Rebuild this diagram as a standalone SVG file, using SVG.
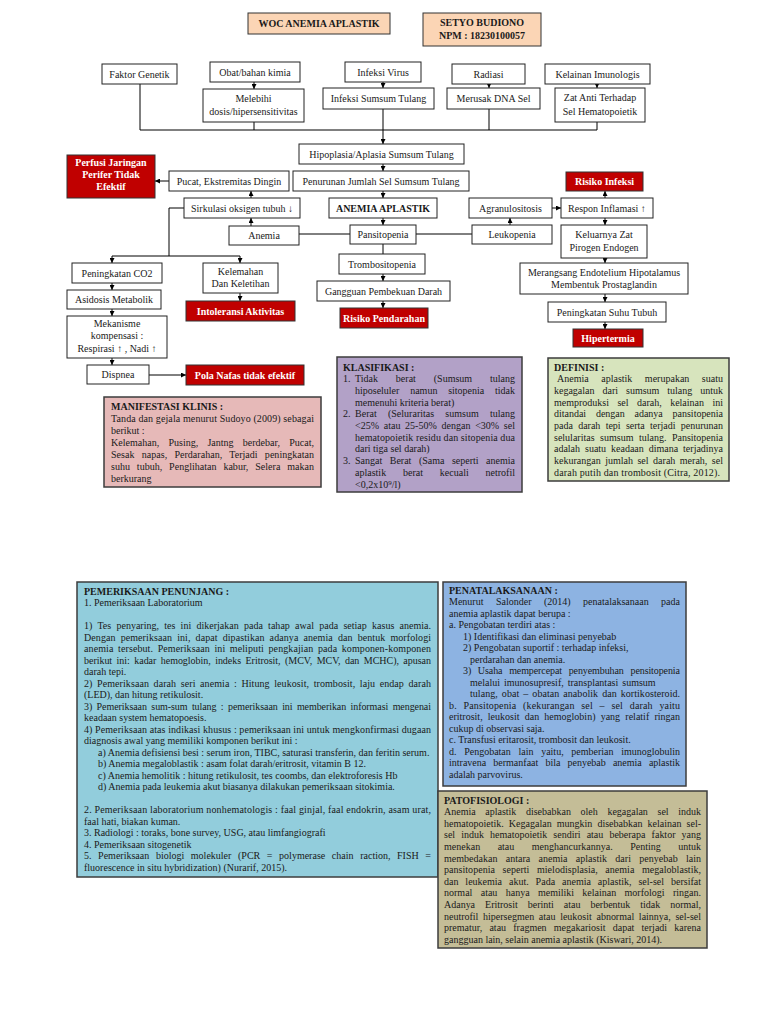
<svg xmlns="http://www.w3.org/2000/svg" width="768" height="1024" viewBox="0 0 768 1024">
<defs>
<style>
text{font-family:"Liberation Serif","Times New Roman",serif;font-size:10px;fill:#1a1a1a}
.m{text-anchor:middle}
.bd{font-weight:bold}
.wt{fill:#fff;font-weight:bold;text-anchor:middle}
.n{fill:#fff;stroke:#222;stroke-width:1}
.r{fill:#c00000;stroke:#333;stroke-width:1}
.h{fill:#fbd5b5;stroke:#333;stroke-width:1}
.tb{stroke:#3c3c3c;stroke-width:1.5}
.a{marker-end:url(#ah)}
</style>
<marker id="ah" viewBox="0 0 10 10" refX="10" refY="5" markerWidth="5" markerHeight="5" markerUnits="userSpaceOnUse" orient="auto"><path d="M0,0L10,5L0,10z" fill="#000"/></marker>
</defs>
<rect width="768" height="1024" fill="#fff"/>

<g id="connectors" fill="none" stroke="#000" stroke-width="1">
<path class="a" d="M254,82V89"/>
<path class="a" d="M383,82V88"/>
<path class="a" d="M489,84V88"/>
<path class="a" d="M597,84V88"/>
<path d="M140,84V130M254,122V130M383,109V130M489,109V130M597,122V130M140,130H597"/>
<path class="a" d="M383,130V144"/>
<path class="a" d="M383,164V171"/>
<path class="a" d="M383,191V198"/>
<path class="a" d="M383,218V225"/>
<path d="M383,244V254"/>
<path class="a" d="M383,274V281"/>
<path class="a" d="M383,301V308"/>
<path d="M350,234H299M416,234H472"/>
<path class="a" d="M251,226V218"/>
<path class="a" d="M251,198V191"/>
<path class="a" d="M169,181H155"/>
<path d="M184,208H169V256M112,256H240"/>
<path class="a" d="M112,256V263"/>
<path class="a" d="M240,256V263"/>
<path class="a" d="M112,283V290"/>
<path class="a" d="M112,309V316"/>
<path class="a" d="M112,358V365"/>
<path class="a" d="M149,375H186"/>
<path class="a" d="M240,293V301"/>
<path class="a" d="M510,225V218"/>
<path class="a" d="M552,208H561"/>
<path class="a" d="M605,198V191"/>
<path class="a" d="M605,218V225"/>
<path class="a" d="M605,258V263"/>
<path class="a" d="M605,294V302"/>
<path class="a" d="M605,322V329"/>
</g>

<g id="title"><rect class="h" x="248" y="13" width="142" height="21"/><text class="m bd" x="319" y="27">WOC ANEMIA APLASTIK</text></g>
<g id="author"><rect class="h" x="423" y="13" width="118" height="33"/><text class="m bd" x="482" y="26">SETYO BUDIONO</text><text class="m bd" x="482" y="39">NPM : 18230100057</text></g>

<g id="faktor"><rect class="n" x="102" y="64" width="75" height="20"/><text class="m" x="139.5" y="77.5">Faktor Genetik</text></g>
<g id="obat"><rect class="n" x="210" y="62" width="90" height="20"/><text class="m" x="255" y="75.5">Obat/bahan kimia</text></g>
<g id="virus"><rect class="n" x="345" y="62" width="76" height="20"/><text class="m" x="383" y="75.5">Infeksi Virus</text></g>
<g id="radiasi"><rect class="n" x="452" y="64" width="73" height="20"/><text class="m" x="488.5" y="77.5">Radiasi</text></g>
<g id="kelainan"><rect class="n" x="545" y="64" width="105" height="20"/><text class="m" x="597.5" y="77.5">Kelainan Imunologis</text></g>

<g id="melebihi"><rect class="n" x="203" y="89" width="101" height="33"/><text class="m" x="253.5" y="102">Melebihi</text><text class="m" x="253.5" y="115">dosis/hipersensitivitas</text></g>
<g id="infsum"><rect class="n" x="323" y="88" width="111" height="21"/><text class="m" x="378.5" y="102">Infeksi Sumsum Tulang</text></g>
<g id="merusak"><rect class="n" x="447" y="88" width="93" height="21"/><text class="m" x="493.5" y="102">Merusak DNA Sel</text></g>
<g id="zatanti"><rect class="n" x="555" y="88" width="90" height="34"/><text class="m" x="600" y="101">Zat Anti Terhadap</text><text class="m" x="600" y="115">Sel Hematopoietik</text></g>

<g id="hipoplasia"><rect class="n" x="299" y="144" width="165" height="20"/><text class="m" x="381.5" y="157.5">Hipoplasia/Aplasia Sumsum Tulang</text></g>
<g id="penurunan"><rect class="n" x="293" y="171" width="176" height="20"/><text class="m" x="381" y="184.5">Penurunan Jumlah Sel Sumsum Tulang</text></g>
<g id="anemiaaplastik"><rect class="n" x="329" y="198" width="108" height="20"/><text class="m bd" x="383" y="211.5">ANEMIA APLASTIK</text></g>
<g id="pansitopenia"><rect class="n" x="350" y="225" width="66" height="19"/><text class="m" x="383" y="238">Pansitopenia</text></g>
<g id="trombositopenia"><rect class="n" x="339" y="254" width="86" height="20"/><text class="m" x="382" y="267.5">Trombositopenia</text></g>
<g id="gangguan"><rect class="n" x="317" y="281" width="133" height="20"/><text class="m" x="383.5" y="294.5">Gangguan Pembekuan Darah</text></g>
<g id="pendarahan"><rect class="r" x="340" y="308" width="88" height="20"/><text class="wt" x="384" y="321.5">Risiko Pendarahan</text></g>

<g id="perfusi"><rect class="r" x="67" y="155" width="88" height="43"/><text class="wt" x="111" y="166">Perfusi Jaringan</text><text class="wt" x="111" y="178">Perifer Tidak</text><text class="wt" x="111" y="190">Efektif</text></g>
<g id="pucat"><rect class="n" x="169" y="171" width="120" height="20"/><text class="m" x="229" y="184.5">Pucat, Ekstremitas Dingin</text></g>
<g id="sirkulasi"><rect class="n" x="184" y="198" width="116" height="20"/><text class="m" x="242" y="211.5">Sirkulasi oksigen tubuh ↓</text></g>
<g id="anemia"><rect class="n" x="229" y="226" width="70" height="19"/><text class="m" x="264" y="239">Anemia</text></g>
<g id="co2"><rect class="n" x="72" y="263" width="90" height="20"/><text class="m" x="117" y="276.5">Peningkatan CO2</text></g>
<g id="kelemahan"><rect class="n" x="203" y="263" width="75" height="30"/><text class="m" x="240.5" y="275">Kelemahan</text><text class="m" x="240.5" y="287">Dan Keletihan</text></g>
<g id="asidosis"><rect class="n" x="67" y="290" width="94" height="19"/><text class="m" x="114" y="303">Asidosis Metabolik</text></g>
<g id="intoleransi"><rect class="r" x="186" y="301" width="109" height="20"/><text class="wt" x="240.5" y="314.5">Intoleransi Aktivitas</text></g>
<g id="mekanisme"><rect class="n" x="67" y="316" width="100" height="42"/><text class="m" x="117" y="327">Mekanisme</text><text class="m" x="117" y="339">kompensasi :</text><text class="m" x="117" y="352">Respirasi ↑ , Nadi ↑</text></g>
<g id="dispnea"><rect class="n" x="87" y="365" width="62" height="19"/><text class="m" x="118" y="378">Dispnea</text></g>
<g id="polanafas"><rect class="r" x="186" y="365" width="118" height="20"/><text class="wt" x="245" y="378.5">Pola Nafas tidak efektif</text></g>

<g id="risikoinfeksi"><rect class="r" x="566" y="172" width="77" height="19"/><text class="wt" x="604.5" y="185">Risiko Infeksi</text></g>
<g id="agranulositosis"><rect class="n" x="469" y="198" width="83" height="20"/><text class="m" x="510.5" y="211.5">Agranulositosis</text></g>
<g id="respon"><rect class="n" x="561" y="198" width="92" height="20"/><text class="m" x="607" y="211.5">Respon Inflamasi ↑</text></g>
<g id="leukopenia"><rect class="n" x="472" y="225" width="80" height="19"/><text class="m" x="512" y="238">Leukopenia</text></g>
<g id="keluarnya"><rect class="n" x="561" y="225" width="86" height="33"/><text class="m" x="604" y="238">Keluarnya Zat</text><text class="m" x="604" y="251">Pirogen Endogen</text></g>
<g id="merangsang"><rect class="n" x="520" y="263" width="168" height="31"/><text class="m" x="604" y="275.5">Merangsang Endotelium Hipotalamus</text><text class="m" x="604" y="288">Membentuk Prostaglandin</text></g>
<g id="suhu"><rect class="n" x="548" y="302" width="118" height="20"/><text class="m" x="607" y="315.5">Peningkatan Suhu Tubuh</text></g>
<g id="hipertermia"><rect class="r" x="573" y="329" width="70" height="18"/><text class="wt" x="608" y="341.5">Hipertermia</text></g>

<g id="manifestasi">
<rect class="tb" x="104" y="397" width="217" height="90" fill="#e6b9b8"/>
<text class="bd" x="111" y="409.5">MANIFESTASI KLINIS :</text>
<text x="111" y="421.5" textLength="203" lengthAdjust="spacing">Tanda dan gejala menurut Sudoyo (2009) sebagai</text>
<text x="111" y="433.5">berikut :</text>
<text x="111" y="445.5" word-spacing="6.7" textLength="203" lengthAdjust="spacing">Kelemahan, Pusing, Jantng berdebar, Pucat,</text>
<text x="111" y="457.5" word-spacing="4.7" textLength="203" lengthAdjust="spacing">Sesak napas, Perdarahan, Terjadi peningkatan</text>
<text x="111" y="469.5" word-spacing="4.4" textLength="203" lengthAdjust="spacing">suhu tubuh, Penglihatan kabur, Selera makan</text>
<text x="111" y="481.5">berkurang</text>
</g>

<g id="klasifikasi">
<rect class="tb" x="337" y="357" width="185" height="135" fill="#b2a1c7"/>
<text class="bd" x="343" y="370.5">KLASIFIKASI :</text>
<text x="343" y="382.2">1.</text><text x="355" y="382.2" word-spacing="15.3" textLength="160" lengthAdjust="spacing">Tidak berat (Sumsum tulang</text>
<text x="355" y="393.9" word-spacing="8.3" textLength="160" lengthAdjust="spacing">hiposeluler namun sitopenia tidak</text>
<text x="355" y="405.6">memenuhi kriteria berat)</text>
<text x="343" y="417.3">2.</text><text x="355" y="417.3" word-spacing="8.7" textLength="160" lengthAdjust="spacing">Berat (Seluraritas sumsum tulang</text>
<text x="355" y="429" word-spacing="2.2" textLength="160" lengthAdjust="spacing">&lt;25% atau 25-50% dengan &lt;30% sel</text>
<text x="355" y="440.7" textLength="160" lengthAdjust="spacing">hematopoietik residu dan sitopenia dua</text>
<text x="355" y="452.4">dari tiga sel darah)</text>
<text x="343" y="464.1">3.</text><text x="355" y="464.1" word-spacing="5" textLength="160" lengthAdjust="spacing">Sangat Berat (Sama seperti anemia</text>
<text x="355" y="475.8" word-spacing="14.3" textLength="160" lengthAdjust="spacing">aplastik berat kecuali netrofil</text>
<text x="355" y="487.5">&lt;0,2x10<tspan dy="-3" font-size="7">9</tspan><tspan dy="3">/l)</tspan></text>
</g>

<g id="definisi">
<rect class="tb" x="548" y="358" width="181" height="123" fill="#d7e4bd"/>
<text class="bd" x="554" y="370.5">DEFINISI :</text>
<text x="557" y="382.2" word-spacing="10" textLength="166" lengthAdjust="spacing">Anemia aplastik merupakan suatu</text>
<text x="554" y="393.9" word-spacing="5.5" textLength="169" lengthAdjust="spacing">kegagalan dari sumsum tulang untuk</text>
<text x="554" y="405.6" word-spacing="6" textLength="169" lengthAdjust="spacing">memproduksi sel darah, kelainan ini</text>
<text x="554" y="417.3" word-spacing="7.3" textLength="169" lengthAdjust="spacing">ditandai dengan adanya pansitopenia</text>
<text x="554" y="429" word-spacing="2.8" textLength="169" lengthAdjust="spacing">pada darah tepi serta terjadi penurunan</text>
<text x="554" y="440.7" word-spacing="3" textLength="169" lengthAdjust="spacing">selularitas sumsum tulang. Pansitopenia</text>
<text x="554" y="452.4" word-spacing="2.5" textLength="169" lengthAdjust="spacing">adalah suatu keadaan dimana terjadinya</text>
<text x="554" y="464.1" word-spacing="2" textLength="169" lengthAdjust="spacing">kekurangan jumlah sel darah merah, sel</text>
<text x="554" y="475.8" textLength="166" lengthAdjust="spacing">darah putih dan trombosit (Citra, 2012).</text>
</g>

<g id="pemeriksaan">
<rect class="tb" x="77" y="582" width="361" height="295" fill="#92cddc"/>
<text class="bd" x="84" y="594.5">PEMERIKSAAN PENUNJANG :</text>
<text x="84" y="606">1.  Pemeriksaan Laboratorium</text>
<text x="84" y="629" word-spacing="2.7" textLength="347" lengthAdjust="spacing">1) Tes penyaring, tes ini dikerjakan pada tahap awal pada setiap kasus anemia.</text>
<text x="84" y="640.5" word-spacing="2.5" textLength="347" lengthAdjust="spacing">Dengan pemeriksaan ini, dapat dipastikan adanya anemia dan bentuk morfologi</text>
<text x="84" y="652" word-spacing="2" textLength="347" lengthAdjust="spacing">anemia tersebut. Pemeriksaan ini meliputi pengkajian pada komponen-komponen</text>
<text x="84" y="663.5" word-spacing="2" textLength="347" lengthAdjust="spacing">berikut ini: kadar hemoglobin, indeks Eritrosit, (MCV, MCV, dan MCHC), apusan</text>
<text x="84" y="675">darah tepi.</text>
<text x="84" y="686.5" word-spacing="2" textLength="347" lengthAdjust="spacing">2) Pemeriksaan darah seri anemia : Hitung leukosit, trombosit, laju endap darah</text>
<text x="84" y="698">(LED), dan hitung retikulosit.</text>
<text x="84" y="709.5" word-spacing="2" textLength="347" lengthAdjust="spacing">3) Pemeriksaan sum-sum tulang : pemeriksaan ini memberikan informasi mengenai</text>
<text x="84" y="721">keadaan system hematopoesis.</text>
<text x="84" y="732.5" textLength="347" lengthAdjust="spacing">4) Pemeriksaan atas indikasi khusus : pemeriksaan ini untuk mengkonfirmasi dugaan</text>
<text x="84" y="744">diagnosis awal yang memiliki komponen berikut ini :</text>
<text x="98" y="755.5">a) Anemia defisiensi besi : serum iron, TIBC, saturasi transferin, dan feritin serum.</text>
<text x="98" y="767">b) Anemia megaloblastik : asam folat darah/eritrosit, vitamin B 12.</text>
<text x="98" y="778.5">c) Anemia hemolitik : hitung retikulosit, tes coombs, dan elektroforesis Hb</text>
<text x="98" y="790">d) Anemia pada leukemia akut biasanya dilakukan pemeriksaan sitokimia.</text>
<text x="84" y="813" textLength="347" lengthAdjust="spacing">2. Pemeriksaan laboratorium nonhematologis : faal ginjal, faal endokrin, asam urat,</text>
<text x="84" y="824.5">faal hati, biakan kuman.</text>
<text x="84" y="836">3. Radiologi : toraks, bone survey, USG, atau limfangiografi</text>
<text x="84" y="847.5">4. Pemeriksaan sitogenetik</text>
<text x="84" y="859" word-spacing="4.1" textLength="347" lengthAdjust="spacing">5. Pemeriksaan biologi molekuler (PCR = polymerase chain raction, FISH =</text>
<text x="84" y="870.5">fluorescence in situ hybridization) (Nurarif, 2015).</text>
</g>

<g id="penatalaksanaan">
<rect class="tb" x="443" y="582" width="243" height="204" fill="#8db3e2"/>
<text class="bd" x="449" y="593.5">PENATALAKSANAAN :</text>
<text x="449" y="605" word-spacing="10" textLength="231" lengthAdjust="spacing">Menurut Salonder (2014) penatalaksanaan pada</text>
<text x="449" y="616.5">anemia aplastik dapat berupa :</text>
<text x="449" y="628">a. Pengobatan terdiri atas :</text>
<text x="463" y="639.5">1) Identifikasi dan eliminasi penyebab</text>
<text x="463" y="651">2) Pengobatan suportif : terhadap infeksi,</text>
<text x="470" y="662.5">perdarahan dan anemia.</text>
<text x="463" y="674" word-spacing="4.3" textLength="217" lengthAdjust="spacing">3) Usaha mempercepat penyembuhan pensitopenia</text>
<text x="470" y="685.5" word-spacing="1.5">melalui imunosupresif, transplantasi sumsum</text>
<text x="470" y="697" word-spacing="1.5" textLength="210" lengthAdjust="spacing">tulang, obat – obatan anabolik dan kortikosteroid.</text>
<text x="449" y="708.5" word-spacing="4.1" textLength="231" lengthAdjust="spacing">b. Pansitopenia (kekurangan sel – sel darah yaitu</text>
<text x="449" y="720" word-spacing="2.7" textLength="231" lengthAdjust="spacing">eritrosit, leukosit dan hemoglobin) yang relatif ringan</text>
<text x="449" y="731.5">cukup di observasi saja.</text>
<text x="449" y="743">c. Transfusi eritarosit, trombosit dan leukosit.</text>
<text x="449" y="754.5" word-spacing="5.2" textLength="231" lengthAdjust="spacing">d. Pengobatan lain yaitu, pemberian imunoglobulin</text>
<text x="449" y="766" word-spacing="4.6" textLength="231" lengthAdjust="spacing">intravena bermanfaat bila penyebab anemia aplastik</text>
<text x="449" y="777.5">adalah parvovirus.</text>
</g>

<g id="patofisiologi">
<rect class="tb" x="438" y="791" width="269" height="157" fill="#c4bd97"/>
<text class="bd" x="444" y="803.5">PATOFISIOLOGI :</text>
<text x="444" y="815.1" word-spacing="7.2" textLength="257" lengthAdjust="spacing">Anemia aplastik disebabkan oleh kegagalan sel induk</text>
<text x="444" y="826.7" word-spacing="2.6" textLength="257" lengthAdjust="spacing">hematopoietik. Kegagalan mungkin disebabkan kelainan sel-</text>
<text x="444" y="838.3" word-spacing="3.6" textLength="257" lengthAdjust="spacing">sel induk hematopoietik sendiri atau beberapa faktor yang</text>
<text x="444" y="849.9" word-spacing="15" textLength="257" lengthAdjust="spacing">menekan atau menghancurkannya. Penting untuk</text>
<text x="444" y="861.5" word-spacing="5.8" textLength="257" lengthAdjust="spacing">membedakan antara anemia aplastik dari penyebab lain</text>
<text x="444" y="873.1" word-spacing="5" textLength="257" lengthAdjust="spacing">pansitopenia seperti mielodisplasia, anemia megaloblastik,</text>
<text x="444" y="884.7" word-spacing="4.4" textLength="257" lengthAdjust="spacing">dan leukemia akut. Pada anemia aplastik, sel-sel bersifat</text>
<text x="444" y="896.3" word-spacing="5.8" textLength="257" lengthAdjust="spacing">normal atau hanya memiliki kelainan morfologi ringan.</text>
<text x="444" y="907.9" word-spacing="7.5" textLength="257" lengthAdjust="spacing">Adanya Eritrosit berinti atau berbentuk tidak normal,</text>
<text x="444" y="919.5" word-spacing="2.2" textLength="257" lengthAdjust="spacing">neutrofil hipersegmen atau leukosit abnormal lainnya, sel-sel</text>
<text x="444" y="931.1" word-spacing="4.7" textLength="257" lengthAdjust="spacing">prematur, atau fragmen megakariosit dapat terjadi karena</text>
<text x="444" y="942.7">gangguan lain, selain anemia aplastik (Kiswari, 2014).</text>
</g>
</svg>
